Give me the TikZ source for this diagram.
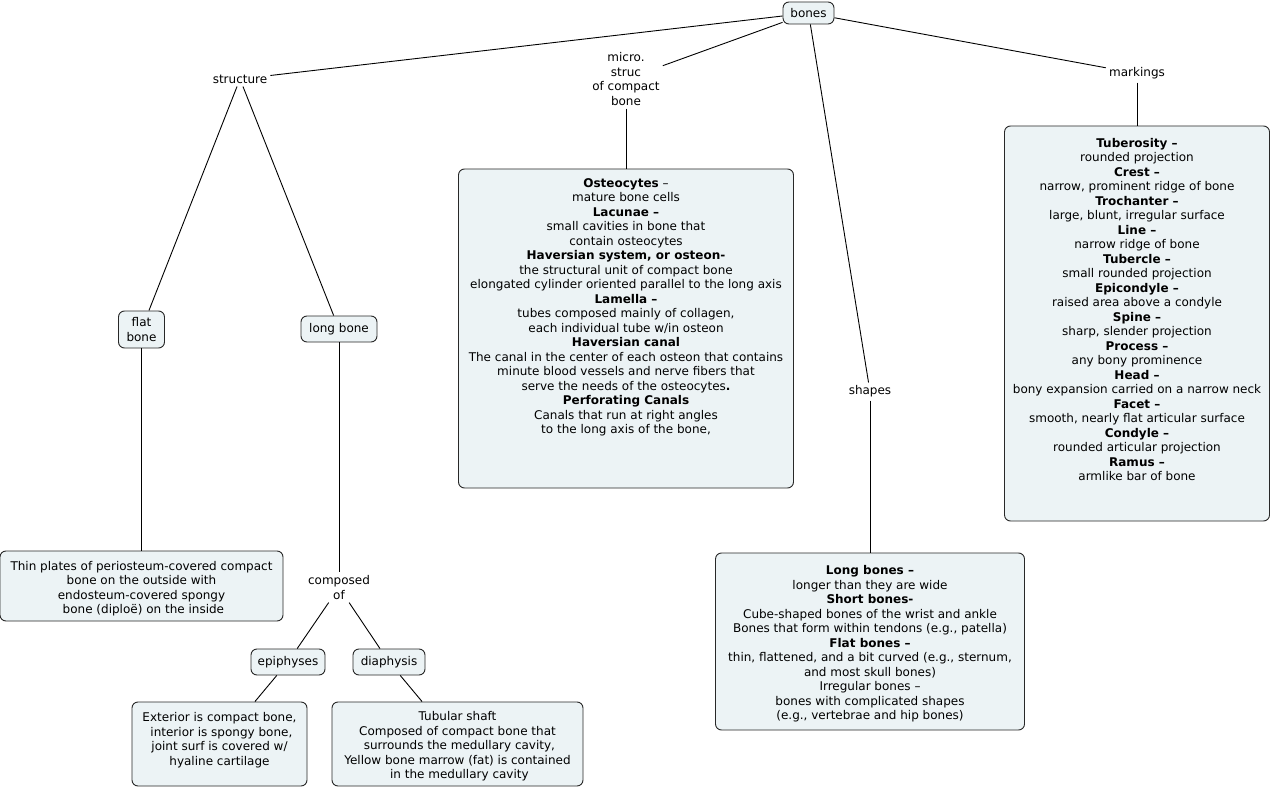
\documentclass[tikz,border=0pt]{standalone}
\usepackage{fontspec}
\setmainfont{DejaVu Sans}
\definecolor{boxfill}{RGB}{236,243,245}
\definecolor{boxline}{RGB}{40,40,40}
\newcommand{\topbox}[4]{\parbox[c][#2][t]{#1}{\centering\vspace*{#3}#4\par}}
\newcommand{\midbox}[3]{\parbox[c][#2][c]{#1}{\centering\vspace*{5pt}#3\par}}
\begin{document}
\begin{tikzpicture}[x=1pt,y=-1pt,
  every node/.style={font=\fontsize{12}{14.5}\selectfont, align=center},
  concept/.style={draw=boxline, fill=boxfill, rounded corners=6pt, line width=0.9pt, inner sep=0pt},
  linklabel/.style={fill=white, inner sep=3pt},
  conn/.style={line width=0.9pt, draw=black}]
\useasboundingbox (0,0) rectangle (1272,789);
\fill[white] (0,0) rectangle (1272,789);

% top concept
\node[concept, minimum width=51pt, minimum height=22pt] (bones) at (808.5,13) {bones};

% link labels
\node[linklabel] (structure) at (240,79) {structure};
\node[linklabel] (micro) at (626,79) {micro.\\struc\\of compact\\bone};
\node[linklabel] (markings) at (1137,73.5) {markings};
\node[linklabel] (shapes) at (870,391.5) {shapes};
\node[linklabel] (composed) at (339,587.5) {composed\\of};

% small concepts
\node[concept, minimum width=46pt, minimum height=37pt] (flat) at (141.5,329.5) {flat\\bone};
\node[concept, minimum width=76pt, minimum height=26pt] (long) at (339,329) {long bone};
\node[concept, minimum width=74pt, minimum height=26pt] (epi) at (288,662) {epiphyses};
\node[concept, minimum width=72pt, minimum height=26pt] (dia) at (389,662) {diaphysis};

% big concepts
\node[concept] (microbox) at (626,328.5) {\topbox{335pt}{319pt}{9.5pt}{%
\textbf{Osteocytes} –\\
mature bone cells\\
\textbf{Lacunae –}\\
small cavities in bone that\\
contain osteocytes\\
\textbf{Haversian system, or osteon-}\\
the structural unit of compact bone\\
elongated cylinder oriented parallel to the long axis\\
\textbf{Lamella –}\\
tubes composed mainly of collagen,\\
each individual tube w/in osteon\\
\textbf{Haversian canal}\\
The canal in the center of each osteon that contains\\
minute blood vessels and nerve fibers that\\
serve the needs of the osteocytes\textbf{.}\\
\textbf{Perforating Canals}\\
Canals that run at right angles\\
to the long axis of the bone,}};

\node[concept] (markbox) at (1137,323.5) {\topbox{265pt}{395pt}{12pt}{%
\textbf{Tuberosity –}\\
rounded projection\\
\textbf{Crest –}\\
narrow, prominent ridge of bone\\
\textbf{Trochanter –}\\
large, blunt, irregular surface\\
\textbf{Line –}\\
narrow ridge of bone\\
\textbf{Tubercle –}\\
small rounded projection\\
\textbf{Epicondyle –}\\
raised area above a condyle\\
\textbf{Spine –}\\
sharp, slender projection\\
\textbf{Process –}\\
any bony prominence\\
\textbf{Head –}\\
bony expansion carried on a narrow neck\\
\textbf{Facet –}\\
smooth, nearly flat articular surface\\
\textbf{Condyle –}\\
rounded articular projection\\
\textbf{Ramus –}\\
armlike bar of bone}};

\node[concept] (shapebox) at (870,641.5) {\midbox{309pt}{177pt}{%
\textbf{Long bones –}\\
longer than they are wide\\
\textbf{Short bones-}\\
Cube-shaped bones of the wrist and ankle\\
Bones that form within tendons (e.g., patella)\\
\textbf{Flat bones –}\\
thin, flattened, and a bit curved (e.g., sternum,\\
and most skull bones)\\
Irregular bones –\\
bones with complicated shapes\\
(e.g., vertebrae and hip bones)}};

\node[concept] (flatdesc) at (141.5,586) {\midbox{283pt}{70pt}{%
Thin plates of periosteum-covered compact\\
bone on the outside with\\
endosteum-covered spongy\\
\ bone (diploë) on the inside}};

\node[concept] (epidesc) at (219.5,744) {\topbox{175pt}{84pt}{10.5pt}{%
Exterior is compact bone,\\
\ interior is spongy bone,\\
joint surf is covered w/\\
hyaline cartilage}};

\node[concept] (diadesc) at (457.5,744) {\midbox{251pt}{84pt}{%
Tubular shaft\\
Composed of compact bone that\\
\ surrounds the medullary cavity,\\
Yellow bone marrow (fat) is contained\\
\ in the medullary cavity}};

% connectors
\draw[conn] (bones) -- (structure);
\draw[conn] (bones) -- (micro);
\draw[conn] (bones) -- (shapes);
\draw[conn] (bones) -- (markings);
\draw[conn] (structure) -- (flat);
\draw[conn] (structure) -- (long);
\draw[conn] (micro) -- (microbox);
\draw[conn] (markings) -- (markbox);
\draw[conn] (shapes) -- (shapebox);
\draw[conn] (flat) -- (flatdesc);
\draw[conn] (long) -- (composed);
\draw[conn] (composed) -- (epi);
\draw[conn] (composed) -- (dia);
\draw[conn] (epi) -- (epidesc);
\draw[conn] (dia) -- (diadesc);
\end{tikzpicture}
\end{document}
